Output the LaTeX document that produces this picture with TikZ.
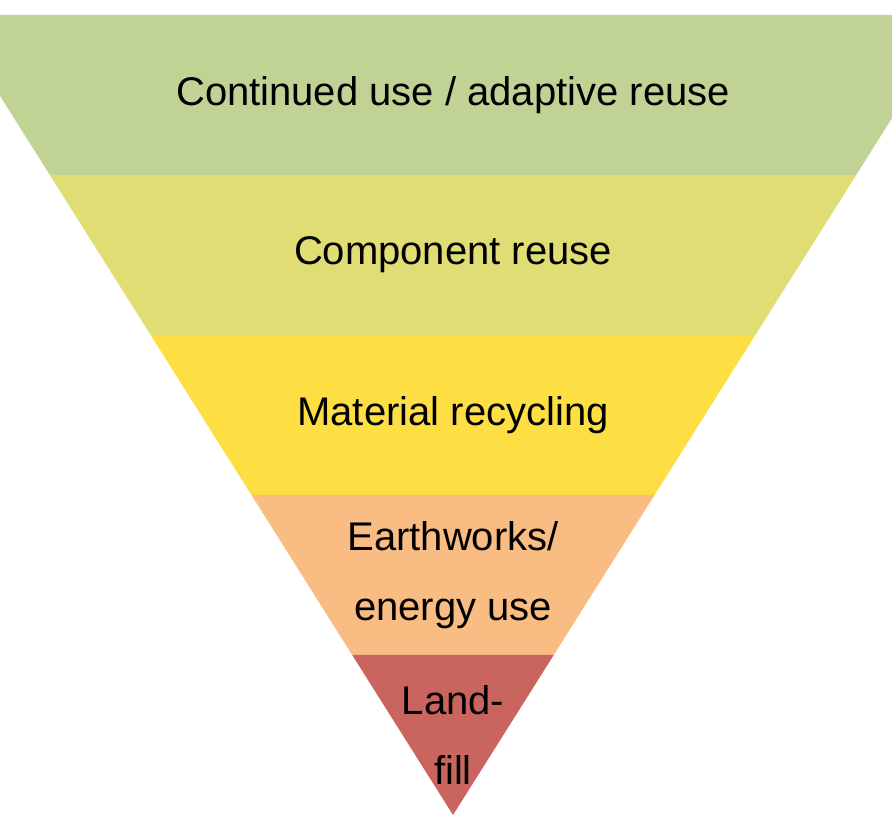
\documentclass[tikz,border=0pt]{standalone}
\usepackage{fontspec}
\setmainfont{Liberation Sans}
\begin{document}
\begin{tikzpicture}[x=1pt,y=1pt,
  lbl/.style={font=\fontsize{40}{70}\selectfont, align=center, text=black}]
\useasboundingbox (0,0) rectangle (892,832);
\clip (0,0) rectangle (892,832);
\fill[fill={rgb,255:red,192;green,211;blue,149}] (-51,817) -- (957,817) -- (856.2,657) -- (49.8,657) -- cycle;
\fill[fill={rgb,255:red,223;green,221;blue,115}] (49.8,657) -- (856.2,657) -- (755.4,497) -- (150.6,497) -- cycle;
\fill[fill={rgb,255:red,253;green,223;blue,67}] (150.6,497) -- (755.4,497) -- (654.6,337) -- (251.4,337) -- cycle;
\fill[fill={rgb,255:red,249;green,189;blue,131}] (251.4,337) -- (654.6,337) -- (553.8,177) -- (352.2,177) -- cycle;
\fill[fill={rgb,255:red,201;green,100;blue,94}] (352.2,177) -- (553.8,177) -- (453,17) -- cycle;
\node[lbl] (a) at (453,737) {Continued use / adaptive reuse};
\node[lbl] (b) at (453,577) {Component reuse};
\node[lbl] (c) at (453,417) {Material recycling};
\node[lbl] (d) at (453,257) {Earthworks/\\energy use};
\node[lbl] (e) at (453,97) {Land-\\fill};
\end{tikzpicture}
\end{document}
